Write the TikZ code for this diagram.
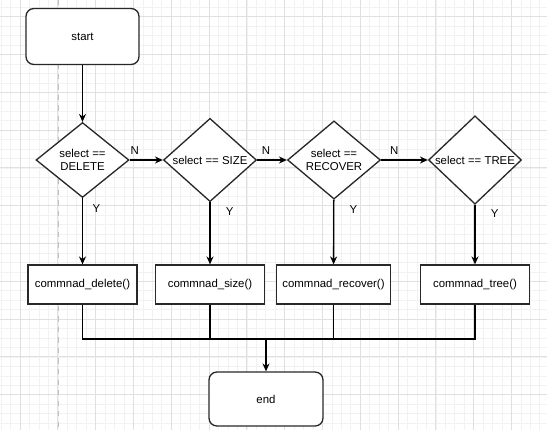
\documentclass[tikz,border=0pt]{standalone}
\usepackage{fontspec}
\setmainfont{Liberation Sans}
\usepackage{tikz}
\usetikzlibrary{arrows.meta, positioning, shapes.geometric, calc}
\definecolor{gridmajor}{RGB}{224,224,224}
\definecolor{gridminor}{RGB}{242,242,242}
\definecolor{edgecolor}{RGB}{40,40,40}

\begin{document}
\begin{tikzpicture}[x=0.02cm, y=-0.02cm,
          font=\fontsize{6.5}{7.6}\selectfont,
          terminal/.style={rectangle, rounded corners=4.5pt, draw=edgecolor, fill=white, line width=0.75pt, minimum width=2.26cm, minimum height=1.12cm},
          decision/.style={diamond, draw=edgecolor, fill=white, line width=0.75pt, inner sep=0pt, minimum width=1.86cm, minimum height=1.5cm, align=center},
          proc/.style={rectangle, draw=edgecolor, fill=white, line width=0.75pt, minimum width=2.18cm, minimum height=0.78cm},
          flow/.style={-{Stealth[length=4.5pt, width=4pt]}, line width=0.75pt, draw=black},
          line/.style={line width=0.75pt, draw=black},
          lbl/.style={inner sep=1pt}]

          % Background grid
          \useasboundingbox (0,0) rectangle (547,430);
          \fill[white] (0,0) rectangle (547,430);
          \foreach \i in {0,...,58} \draw[gridminor, line width=0.3pt] ({1.1+9.45*\i},0) -- ++(0,430);
          \foreach \j in {0,...,45} \draw[gridminor, line width=0.3pt] (0,{-2.2+9.45*\j}) -- ++(547,0);
          \foreach \i in {0,...,14} \draw[gridmajor, line width=0.5pt] ({20+37.8*\i},0) -- ++(0,430);
          \foreach \j in {0,...,11} \draw[gridmajor, line width=0.5pt] (0,{16.7+37.8*\j}) -- ++(547,0);
          \draw[gray!50, dashed, line width=0.5pt] (58.3,0) -- (58.3,430);

          % Nodes
          \node[terminal] (start) at (82.5,36.5) {start};
          \node[decision] (d1) at (82.5,160) {select ==\\DELETE};
          \node[decision] (d2) at (210,160) {select == SIZE};
          \node[decision] (d3) at (334,160) {select ==\\RECOVER};
          \node[decision] (d4) at (475,160) {select == TREE};
          \node[proc] (b1) at (82.5,284.5) {commnad\_delete()};
          \node[proc] (b2) at (210,284.5) {commnad\_size()};
          \node[proc] (b3) at (333.5,284.5) {commnad\_recover()};
          \node[proc] (b4) at (475,284.5) {commnad\_tree()};
          \node[terminal, minimum width=2.28cm, minimum height=1.08cm] (end) at (266,399) {end};
          \coordinate (m) at (266,339);

          % Edges
          \draw[flow] (start) -- (d1);
          \draw[flow] (d1) -- node[lbl, pos=0.15, above=2pt] {N} (d2);
          \draw[flow] (d2) -- node[lbl, pos=0.3, above=2pt] {N} (d3);
          \draw[flow] (d3) -- node[lbl, pos=0.28, above=2pt] {N} (d4);
          \draw[flow] (d1) -- node[lbl, pos=0.15, right=4.4pt] {Y} (b1);
          \draw[flow] (d2) -- node[lbl, pos=0.15, right=7.6pt] {Y} (b2);
          \draw[flow] (d3) -- node[lbl, pos=0.15, right=7.6pt] {Y} (b3);
          \draw[flow] (d4) -- node[lbl, pos=0.15, right=7.6pt] {Y} (b4);
          \draw[line] (b1.south) |- (b4.south |- m) -- (b4.south);
          \draw[line] (b2.south) -- (b2.south |- m);
          \draw[line] (b3.south) -- (b3.south |- m);
          \draw[flow] (m) -- (end);
\end{tikzpicture}
\end{document}
